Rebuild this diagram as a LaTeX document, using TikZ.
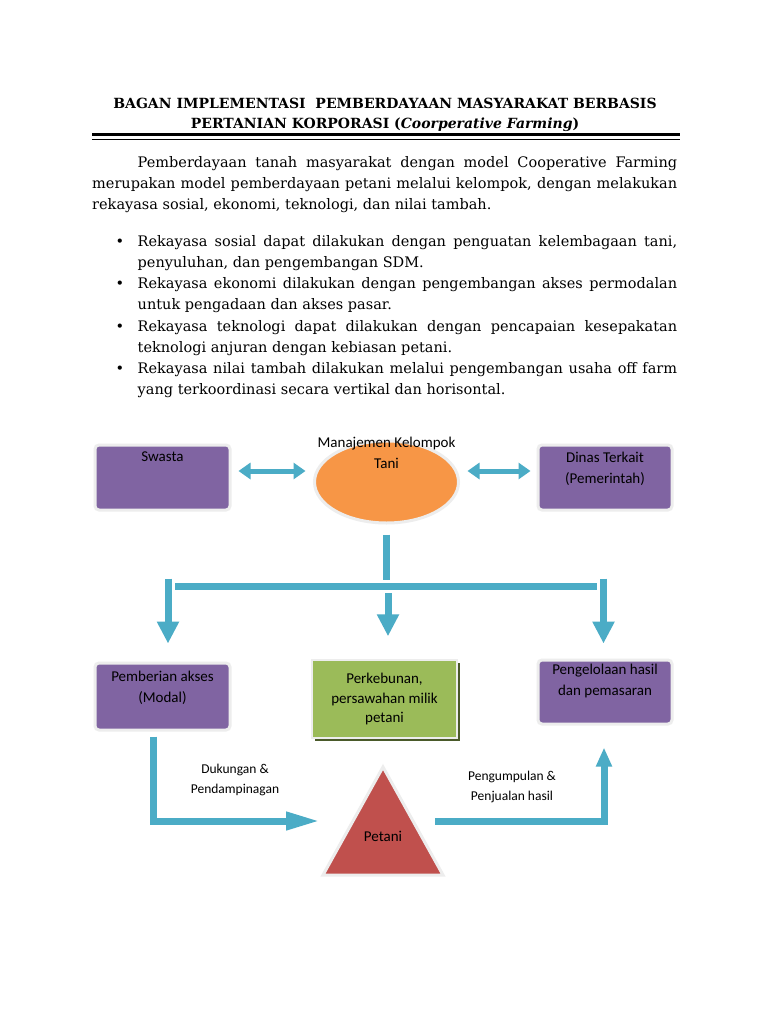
\documentclass[tikz,border=0pt]{standalone}
\usepackage{fontspec}
\setmainfont{DejaVu Serif}
\newfontfamily\calfont{Carlito}
\usetikzlibrary{arrows.meta,shapes.geometric,shadows}
\definecolor{purp}{HTML}{8064A2}
\definecolor{orng}{HTML}{F79646}
\definecolor{tealc}{HTML}{4BACC6}
\definecolor{grn}{HTML}{9BBB59}
\definecolor{redc}{HTML}{C0504D}
\definecolor{halo}{HTML}{EDEDED}
\definecolor{grnshadow}{HTML}{4A5A2A}
\begin{document}
\begin{tikzpicture}[x=1pt,y=-1pt,
  body/.style={anchor=base west, inner sep=0pt, font=\fontsize{14.5}{21}\selectfont},
  ttl/.style={anchor=base, inner sep=0pt, font=\bfseries\fontsize{14}{20}\selectfont},
  bul/.style={anchor=base, inner sep=0pt, font=\fontsize{14.5}{21}\selectfont},
  pbox/.style={rectangle, rounded corners=4pt, fill=purp, draw=halo, line width=3pt},
  lbl/.style={font=\calfont\fontsize{15}{21}\selectfont, align=center, inner sep=0pt},
  smlbl/.style={font=\calfont\fontsize{13.5}{20}\selectfont, align=center, inner sep=0pt},
  flow/.style={draw=tealc, line width=7pt},
  downarrow/.style={flow, -{Triangle[width=21pt,length=22pt]}},
  darrow/.style={draw=tealc, line width=5pt, {Triangle[width=16pt,length=12pt]}-{Triangle[width=16pt,length=12pt]}}
]
\useasboundingbox[fill=white] (0,0) rectangle (768,1024);

% Title
\node[ttl] (t1) at (385,109) {BAGAN IMPLEMENTASI\ \ PEMBERDAYAAN MASYARAKAT BERBASIS};
\node[ttl] (t2) at (385,129) {PERTANIAN KORPORASI (\textit{Coorperative Farming})};
\coordinate (ruleL) at (92,134.5);
\coordinate (ruleR) at (680,134.5);
\draw[line width=3pt] (ruleL) -- (ruleR);
\draw[line width=1pt] ([yshift=-5pt]ruleL) -- ([yshift=-5pt]ruleR);

% Paragraph
\node[body] (p1) at (137.5,167.5) {\makebox[539.5pt][s]{Pemberdayaan tanah masyarakat dengan model Cooperative Farming}};
\node[body] (p2) at (92,189) {\makebox[585pt][s]{merupakan model pemberdayaan petani melalui kelompok, dengan melakukan}};
\node[body] (p3) at (92,210) {rekayasa sosial, ekonomi, teknologi, dan nilai tambah.};

% Bullets
\node[bul] (bu1) at (120,246) {•};
\node[body] (b1a) at (137.5,246) {\makebox[539.5pt][s]{Rekayasa sosial dapat dilakukan dengan penguatan kelembagaan tani,}};
\node[body] (b1b) at (137.5,267) {penyuluhan, dan pengembangan SDM.};
\node[bul] (bu2) at (120,288) {•};
\node[body] (b2a) at (137.5,288) {\makebox[539.5pt][s]{Rekayasa ekonomi dilakukan dengan pengembangan akses permodalan}};
\node[body] (b2b) at (137.5,309) {untuk pengadaan dan akses pasar.};
\node[bul] (bu3) at (120,331) {•};
\node[body] (b3a) at (137.5,331) {\makebox[539.5pt][s]{Rekayasa teknologi dapat dilakukan dengan pencapaian kesepakatan}};
\node[body] (b3b) at (137.5,352) {teknologi anjuran dengan kebiasan petani.};
\node[bul] (bu4) at (120,373) {•};
\node[body] (b4a) at (137.5,373) {\makebox[539.5pt][s]{Rekayasa nilai tambah dilakukan melalui pengembangan usaha off farm}};
\node[body] (b4b) at (137.5,394) {yang terkoordinasi secara vertikal dan horisontal.};

% Top row
\node[pbox, minimum width=135pt, minimum height=65pt] (swasta) at (162.5,477.5) {};
\node[lbl] (swastaT) at (162.5,457) {Swasta};
\node[ellipse, fill=orng, draw=halo, line width=3pt, minimum width=144pt, minimum height=82pt, inner sep=0pt] (mkt) at (386.5,482) {};
\node[lbl] (mktT) at (386.5,452.5) {Manajemen Kelompok\\Tani};
\node[pbox, minimum width=134pt, minimum height=65pt] (dinas) at (605,477.5) {};
\node[lbl] (dinasT) at (605,469) {Dinas Terkait\\(Pemerintah)};

\draw[darrow] ([xshift=7pt,yshift=6.5pt]swasta.east) -- ([xshift=-7.5pt,yshift=11pt]mkt.west);
\draw[darrow] ([xshift=7.5pt,yshift=11pt]mkt.east) -- ([xshift=-6pt,yshift=6.5pt]dinas.west);

% Second row
\node[pbox, minimum width=135pt, minimum height=67pt] (akses) at (162.5,696.5) {};
\node[lbl] (aksesT) at (162.5,688) {Pemberian akses\\(Modal)};
\node[rectangle, fill=grn, draw=halo, line width=1.5pt, minimum width=145pt, minimum height=78pt,
      drop shadow={shadow xshift=2.5pt, shadow yshift=-2.5pt, fill=grnshadow, opacity=1}] (kebun) at (384.5,699) {};
\node[lbl, font=\calfont\fontsize{15}{19.5}\selectfont] (kebunT) at (384.5,699) {Perkebunan,\\persawahan milik\\petani};
\node[pbox, minimum width=134pt, minimum height=64pt] (kelola) at (605,692) {};
\node[lbl] (kelolaT) at (605,681) {Pengelolaan hasil\\dan pemasaran};

% Tree connectors
\draw[flow] ([yshift=-10pt]mkt.south) -- ([yshift=-55pt]mkt.south);
\coordinate (busL) at (175,586.5);
\coordinate (busR) at (597,586.5);
\draw[flow] (busL) -- (busR);
\draw[downarrow] ([xshift=5.5pt,yshift=83pt]akses.north) -- ([xshift=5.5pt,yshift=18pt]akses.north);
\draw[downarrow] ([xshift=3.5pt,yshift=66pt]kebun.north) -- ([xshift=3.5pt,yshift=23pt]kebun.north);
\draw[downarrow] ([xshift=-1.5pt,yshift=80pt]kelola.north) -- ([xshift=-1.5pt,yshift=15pt]kelola.north);

% Triangle
\coordinate (triA) at (383,767);
\coordinate (triL) at (323,875);
\coordinate (triR) at (443,875);
\filldraw[fill=redc, draw=halo, line width=3pt, line join=miter] (triA) -- (triR) -- (triL) -- cycle;
\node[lbl] (petani) at (383,836) {Petani};

% Bottom connectors
\draw[flow, -{Triangle[width=17pt,length=34pt]}] ([xshift=-9.5pt,yshift=-5pt]akses.south) |- ([xshift=-63pt,yshift=15pt]petani.center);
\draw[flow, -{Triangle[width=15pt,length=19pt]}] ([xshift=52pt,yshift=15pt]petani.center) -| ([xshift=-1pt,yshift=-22pt]kelola.south);

\node[smlbl] (dukT) at (235,780) {Dukungan \&\\Pendampinagan};
\node[smlbl] (pengT) at (512,787) {Pengumpulan \&\\Penjualan hasil};
\end{tikzpicture}
\end{document}
